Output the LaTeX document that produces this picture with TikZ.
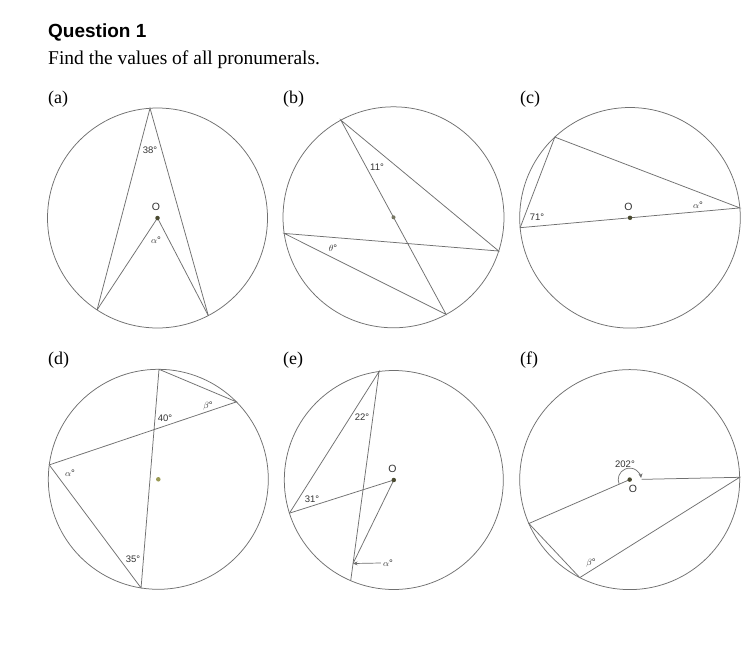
\documentclass[tikz,border=0pt]{standalone}
\usepackage{fontspec}
\setmainfont{Liberation Serif}
\newfontfamily\sansf{Liberation Sans}
\usetikzlibrary{calc,arrows.meta}
\definecolor{linegray}{HTML}{707070}
\definecolor{txtgray}{HTML}{333333}
\definecolor{dotcol}{HTML}{4A4A30}
\definecolor{dotlight}{HTML}{9A9A55}
\begin{document}
\begin{tikzpicture}[x=1pt,y=-1pt,
  geo/.style={draw=linegray, line width=0.75pt},
  lbl/.style={font=\sansf\fontsize{9.5}{9.5}\selectfont, text=txtgray, inner sep=0pt},
  olbl/.style={font=\sansf\fontsize{10.5}{10.5}\selectfont, text=txtgray, inner sep=0pt},
  part/.style={font=\fontsize{18}{18}\selectfont, anchor=base west, inner sep=0pt},
  cdot/.style={circle, fill=dotcol, inner sep=0pt, minimum size=4.5pt}]
\useasboundingbox (0,0) rectangle (756,656);
\fill[white] (0,0) rectangle (756,656);

% headings
\node[anchor=base west, inner sep=0pt, font=\sansf\bfseries\fontsize{19}{19}\selectfont] (title) at (48,37) {Question 1};
\node[anchor=base west, inner sep=0pt, font=\fontsize{19.5}{19.5}\selectfont] (instr) at (48,64) {Find the values of all pronumerals.};
\node[part] (pa) at (48,103) {(a)};
\node[part] (pb) at (283,103) {(b)};
\node[part] (pc) at (520,103) {(c)};
\node[part] (pd) at (48,364) {(d)};
\node[part] (pe) at (283,364) {(e)};
\node[part] (pf) at (520,364) {(f)};

% ---------- (a)
\coordinate (Oa) at (157.5,218);
\draw[geo] (Oa) circle[radius=110];
\coordinate (A1) at ($(Oa)!110pt!(150,108)$);
\coordinate (A2) at ($(Oa)!110pt!(97,310)$);
\coordinate (A3) at ($(Oa)!110pt!(208,315)$);
\draw[geo] (A2) -- (A1) -- (A3);
\draw[geo] (A2) -- (Oa) -- (A3);
\node[cdot] (da) at (Oa) {};
\node[lbl] (a38) at (150,150) {38°};
\node[olbl] (aO) at (156,207) {O};
\node[lbl] (aal) at (156,240) {$\alpha$°};

% ---------- (b)
\coordinate (Ob) at (393.5,217.3);
\draw[geo] (Ob) circle[radius=110.5];
\coordinate (B1) at ($(Ob)!110.5pt!(341.7,121.7)$);
\coordinate (B4) at ($(Ob)!-110.5pt!(341.7,121.7)$);
\coordinate (B2) at ($(Ob)!110.5pt!(497.7,250.7)$);
\coordinate (B3) at ($(Ob)!110.5pt!(285,233.3)$);
\draw[geo] (B1) -- (B2) -- (B3) -- (B4) -- cycle;
\node[cdot, fill=dotcol!75, minimum size=4pt] (db) at (Ob) {};
\node[lbl] (b11) at (377,167) {11°};
\node[lbl] (bth) at (333,248) {$\theta$°};

% ---------- (c)
\coordinate (Oc) at (630,217.8);
\draw[geo] (Oc) circle[radius=110.3];
\coordinate (C1) at ($(Oc)!110.3pt!(520,227.7)$);
\coordinate (C2) at ($(Oc)!-110.3pt!(520,227.7)$);
\coordinate (C3) at ($(Oc)!110.3pt!(555,137.3)$);
\draw[geo] (C1) -- (C2) -- (C3) -- cycle;
\node[cdot] (dc) at (Oc) {};
\node[lbl] (c71) at (537,217) {71°};
\node[olbl] (cO) at (628.5,207) {O};
\node[lbl] (cal) at (698,205) {$\alpha$°};

% ---------- (d)
\coordinate (Od) at (158.3,479.3);
\draw[geo] (Od) circle[radius=110];
\coordinate (D1) at ($(Od)!110pt!(159,370)$);
\coordinate (D2) at ($(Od)!110pt!(236,402.3)$);
\coordinate (D3) at ($(Od)!110pt!(50,465)$);
\coordinate (D4) at ($(Od)!110pt!(141,588.3)$);
\draw[geo] (D1) -- (D2) -- (D3) -- (D4) -- cycle;
\node[cdot, fill=dotlight] (dd) at (Od) {};
\node[lbl] (d40) at (165,418) {40°};
\node[lbl] (dbe) at (208,406) {$\beta$°};
\node[lbl] (dal) at (70,473) {$\alpha$°};
\node[lbl] (d35) at (133,559) {35°};

% ---------- (e)
\coordinate (Oe) at (393.8,480);
\draw[geo] (Oe) circle[radius=109.5];
\coordinate (E1) at ($(Oe)!109.5pt!(379,371)$);
\coordinate (E2) at ($(Oe)!109.5pt!(289,513.3)$);
\coordinate (E3) at ($(Oe)!109.5pt!(351,580)$);
\coordinate (E4) at ($(E1)!0.918!(E3)$);
\draw[geo] (E2) -- (E1) -- (E3);
\draw[geo] (E2) -- (Oe) -- (E4);
\node[cdot] (de) at (Oe) {};
\node[lbl] (e22) at (362,417) {22°};
\node[olbl] (eO) at (392.5,469) {O};
\node[lbl] (e31) at (312,499) {31°};
\node[lbl] (eal) at (388,563) {$\alpha$°};
\draw[geo, line width=0.7pt, -{Stealth[length=4.5pt,width=4pt]}] (eal.west) ++(-2,0) -- (E4);

% ---------- (f)
\coordinate (Of) at (629.7,479.6);
\draw[geo] (Of) circle[radius=110];
\coordinate (F1) at ($(Of)!110pt!(739.3,477.3)$);
\coordinate (F2) at ($(Of)!110pt!(529.3,523.3)$);
\coordinate (F3) at ($(Of)!110pt!(584,569.3)$);
\coordinate (F0) at ($(Of)!12pt!(F1)$);
\draw[geo] (F0) -- (F1) -- (F3) -- (F2) -- (Of);
\draw[geo, line width=0.7pt, -{Stealth[length=4.5pt,width=4pt]}] ($(Of)+(-204:11.5)$) arc[start angle=-204, end angle=-8, radius=11.5];
\node[cdot] (df) at (Of) {};
\node[lbl] (f202) at (625,464) {202°};
\node[olbl] (fO) at (633,489) {O};
\node[lbl] (fbe) at (591,563) {$\beta$°};
\end{tikzpicture}
\end{document}
